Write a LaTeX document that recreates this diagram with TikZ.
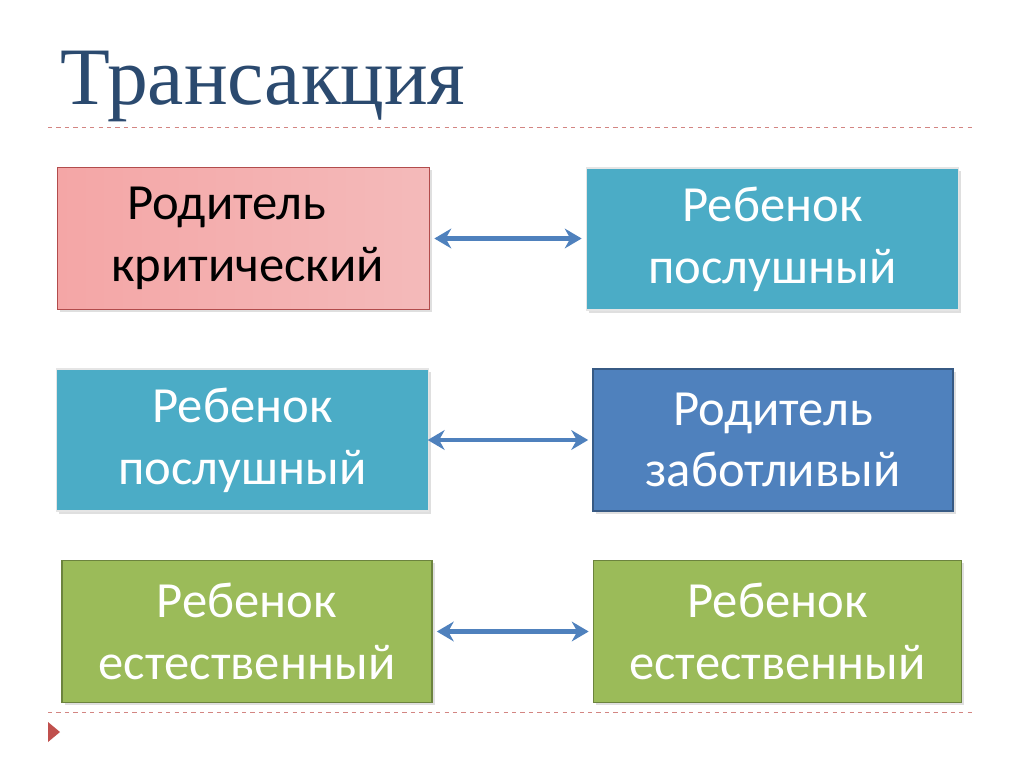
\documentclass[tikz,border=0pt]{standalone}
\usepackage{fontspec}
\setmainfont{Carlito}
\newfontfamily\titlefont{Liberation Serif}
\usetikzlibrary{arrows.meta,shadows}
\definecolor{ttl}{HTML}{2B4A6F}
\definecolor{aqua}{HTML}{4BACC6}
\definecolor{blu}{HTML}{4F81BD}
\definecolor{olive}{HTML}{9BBB59}
\definecolor{rulered}{HTML}{C0504D}
\definecolor{pinkA}{HTML}{F4A6A6}
\definecolor{pinkB}{HTML}{F08888}
\definecolor{pinkC}{HTML}{F4BABA}
\tikzset{
  ebox/.style={draw=#1!70!black, line width=0.8pt, minimum width=9.3cm, minimum height=3.55cm,
    align=center, font=\fontsize{36}{44}\selectfont, text=white, fill=#1,
    drop shadow={opacity=0.25, shadow xshift=2pt, shadow yshift=-2pt}},
  tarrow/.style={blu, line width=3pt, {Stealth[length=12pt,width=14pt]}-{Stealth[length=12pt,width=14pt]}}
}
\begin{document}
\begin{tikzpicture}[x=0.025cm,y=-0.025cm]
\useasboundingbox[fill=white] (0,0) rectangle (1024,767);
\node[anchor=base west, text=ttl, font=\titlefont\fontsize{58}{58}\selectfont, inner sep=0] (title) at (60,105) {Трансакция};
\draw[rulered!70, dashed, line width=0.6pt] (48,127) -- (975,127);
\draw[rulered!70, dashed, line width=0.6pt] (48,712) -- (975,712);
\fill[rulered] (48,722) -- (60,732) -- (48,742) -- cycle;

\node[ebox=blu, draw=red!40!gray, left color=pinkA, middle color=pinkB, right color=pinkC, text=black, align=left] (pk) at (243.5,238.5) {\hspace*{0.6cm}Родитель\\ \hspace*{0.2cm}критический};
\node[ebox=aqua, draw=white!80!gray] (rp1) at (772.5,239) {Ребенок\\послушный};
\node[ebox=aqua, draw=white!80!gray] (rp2) at (242.5,440) {Ребенок\\послушный};
\node[ebox=blu, minimum width=9cm] (rz) at (773,440) {Родитель\\заботливый};
\node[ebox=olive, minimum width=9.25cm] (re1) at (247,631.5) {Ребенок\\естественный};
\node[ebox=olive, minimum width=9.2cm] (re2) at (777.5,631.5) {Ребенок\\естественный};

\draw[tarrow] ([xshift=3pt]pk.east) -- ([xshift=-3pt]rp1.west |- pk.east);
\draw[tarrow] ([xshift=-1pt]rp2.east) -- ([xshift=-3pt]rz.west |- rp2.east);
\draw[tarrow] ([xshift=3pt]re1.east) -- ([xshift=-3pt]re2.west);
\end{tikzpicture}
\end{document}
